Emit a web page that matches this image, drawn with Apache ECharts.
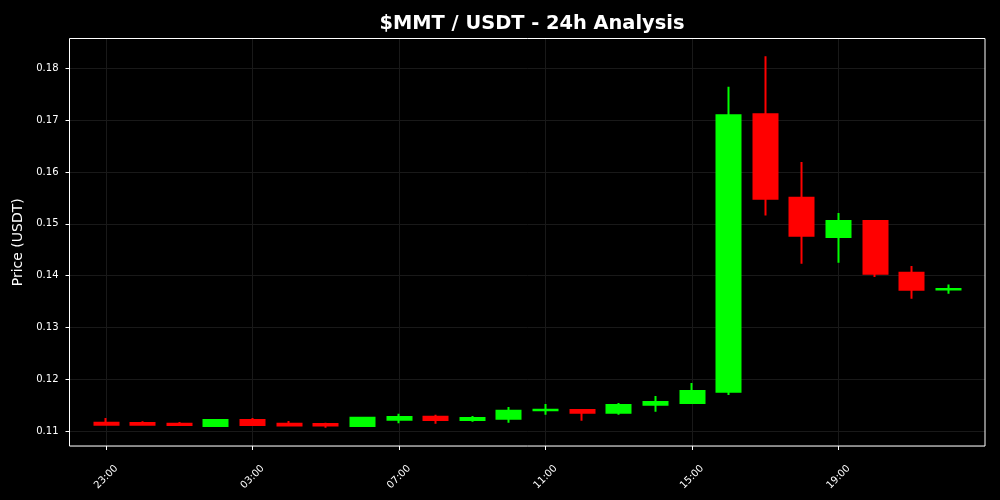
<!DOCTYPE html>
<html>
<head>
<meta charset="utf-8">
<script src="https://cdn.jsdelivr.net/npm/echarts@6/dist/echarts.min.js"></script>
<style>
html,body{margin:0;padding:0;background:#000;}
#chart{width:1000px;height:500px;}
</style>
</head>
<body>
<div id="chart"></div>
<script>
// hourly candles from 23:00 to 22:00 (padding slots at both ends)
const hours = ['22:00','23:00','00:00','01:00','02:00','03:00','04:00','05:00','06:00','07:00','08:00','09:00','10:00','11:00','12:00','13:00','14:00','15:00','16:00','17:00','18:00','19:00','20:00','21:00','22:00','23:00'];
const opens  = [null,0.11163,0.11158,0.11146,0.11102,0.11218,0.11146,0.11140,0.11102,0.11224,0.11281,0.11218,0.11243,0.11405,0.11410,0.11358,0.11513,0.11545,0.11763,0.17113,0.15501,0.14744,0.15052,0.14056,0.13736,null];
const closes = [null,0.11125,0.11128,0.11124,0.11218,0.11121,0.11110,0.11112,0.11262,0.11276,0.11218,0.11256,0.11397,0.11415,0.11358,0.11507,0.11565,0.11777,0.17094,0.15482,0.14769,0.15052,0.14037,0.13728,0.13742,null];
const lows   = [null,0.11108,0.11116,0.11102,0.11102,0.11102,0.11102,0.11069,0.11089,0.11154,0.11146,0.11185,0.11166,0.11320,0.11204,0.11320,0.11378,0.11526,0.11700,0.15162,0.14229,0.14249,0.13973,0.13555,0.13651,null];
const highs  = [null,0.11256,0.11193,0.11179,0.11237,0.11256,0.11198,0.11166,0.11281,0.11339,0.11320,0.11295,0.11468,0.11526,0.11430,0.11545,0.11680,0.11931,0.17640,0.18231,0.16189,0.15206,0.15071,0.14185,0.13832,null];

const data = hours.map((h, i) => opens[i] == null ? '-' : [opens[i], closes[i], lows[i], highs[i]]);
const showIdx = (i) => i > 0 && i < hours.length - 1 && (i - 1) % 4 === 0;

const chart = echarts.init(document.getElementById('chart'));
chart.setOption({
  backgroundColor: '#000',
  animation: false,
  title: {
    text: '$MMT / USDT - 24h Analysis',
    left: 527, top: 9, textAlign: 'center',
    textStyle: {color: '#fff', fontFamily: 'DejaVu Sans', fontWeight: 'bold', fontSize: 19.4}
  },
  grid: {left: 69.5, right: 15, top: 38.5, bottom: 54, show: true, borderColor: '#fff', borderWidth: 1, backgroundColor: 'transparent', z: 5},
  xAxis: {
    type: 'category',
    data: hours,
    boundaryGap: false,
    axisLine: {show: false},
    axisTick: {show: true, interval: (i) => showIdx(i), length: 4, lineStyle: {color: '#fff'}},
    axisLabel: {interval: (i) => showIdx(i), rotate: 45, align: 'center', verticalAlign: 'middle', margin: 31, color: '#fff', fontFamily: 'DejaVu Sans', fontSize: 10},
    splitLine: {show: true, interval: (i) => showIdx(i), lineStyle: {color: '#191919', width: 1}}
  },
  yAxis: {
    type: 'value',
    min: 0.10717, max: 0.18572,
    splitNumber: 8,
    name: 'Price (USDT)',
    nameLocation: 'middle',
    nameGap: 41,
    nameTextStyle: {color: '#fff', fontFamily: 'DejaVu Sans', fontSize: 14},
    axisLine: {show: false},
    axisTick: {show: true, length: 4, lineStyle: {color: '#fff'}},
    axisLabel: {color: '#fff', fontFamily: 'DejaVu Sans', fontSize: 10, margin: 11, showMinLabel: false, showMaxLabel: false, formatter: (v) => v.toFixed(2)},
    splitLine: {show: true, lineStyle: {color: '#191919', width: 1}}
  },
  series: [{
    type: 'candlestick',
    data: data,
    barWidth: 24.5,
    itemStyle: {
      color: '#00ff00', color0: '#ff0000',
      borderColor: '#00ff00', borderColor0: '#ff0000', borderColorDoji: '#00ff00',
      borderWidth: 2
    }
  }]
});
</script>
</body>
</html>
